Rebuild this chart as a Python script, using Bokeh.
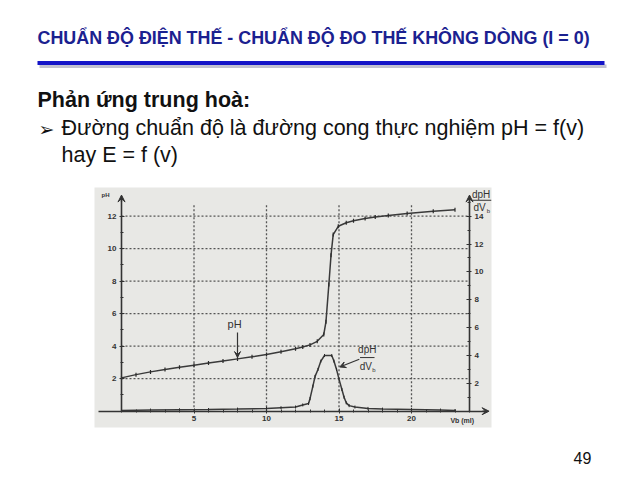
import math
from bokeh.plotting import figure
from bokeh.models import (Range1d, LinearAxis, FixedTicker, Label, Arrow,
                          VeeHead, BoxAnnotation)
from bokeh.embed import file_html
from bokeh.resources import INLINE

# ---------------- data ----------------
title_text = "CHUẨN ĐỘ ĐIỆN THẾ - CHUẨN ĐỘ ĐO THẾ  KHÔNG DÒNG (I = 0)"
heading_text = "Phản ứng trung hoà:"
bullet_line1 = "Đường chuẩn độ là đường cong thực nghiệm pH = f(v)"
bullet_line2 = "hay E = f (v)"
page_number = "49"

vb_ph = [0, 1, 2, 3, 4, 5, 6, 7, 8, 9, 10, 11, 12, 12.5, 13, 13.5, 13.95,
         14.1, 14.3, 14.45, 14.6, 14.95, 15.5, 16, 16.8, 17.5, 18.4, 19.7,
         21.5, 23]
ph = [2.05, 2.25, 2.42, 2.57, 2.70, 2.83, 2.96, 3.09, 3.22, 3.35, 3.49,
      3.66, 3.84, 3.95, 4.08, 4.30, 4.72, 5.5, 7.8, 9.6, 10.87, 11.38,
      11.6, 11.72, 11.86, 11.95, 12.04, 12.17, 12.3, 12.4]

vb_d = [0, 2, 4, 6, 8, 10, 11, 12, 12.5, 12.9, 13.0, 13.2, 13.35, 13.55,
        13.75, 14.0, 14.5, 14.65, 14.83, 15.0, 15.2, 15.35, 15.5, 15.7, 16.1,
        17, 18, 20, 22, 23]
dph_dvb = [0.05, 0.08, 0.1, 0.12, 0.15, 0.2, 0.25, 0.3, 0.45, 0.55, 0.9,
           1.8, 2.5, 3.0, 3.6, 4.0, 4.0, 3.6, 3.0, 2.3, 1.56, 1.0, 0.6, 0.4,
           0.3, 0.2, 0.15, 0.12, 0.08, 0.05]

x_ticks = [5, 10, 15, 20]
ph_ticks = [2, 4, 6, 8, 10, 12]
d_ticks = [2, 4, 6, 8, 10, 12, 14]

FONT = "Liberation Sans"
INK = "#333333"

# ---------------- layout helpers (page pixels -> chart units) ----------------
PX0, PXU = 122.0, 14.5      # page x of Vb = 0, pixels per mL
PY0, PYU = 411.7, 16.25     # page y of pH = 0, pixels per pH unit
D_PER_PH = 14.0 / 12.0      # right axis units per pH unit
ORIGIN = 1                  # page offset of the canvas


def dx(px):
    return (px - PX0) / PXU


def dy(py):
    return (PY0 - py) / PYU


W, H = 622, 469
p = figure(width=W, height=H, x_range=Range1d(dx(ORIGIN), dx(ORIGIN + W)),
           y_range=Range1d(dy(ORIGIN + H), dy(ORIGIN)), output_backend="svg",
           toolbar_location=None, x_axis_location=None, y_axis_location=None,
           min_border=0, background_fill_color="white",
           border_fill_color="white", outline_line_color=None)
p.grid.visible = False
p.extra_y_ranges = {"d": Range1d(dy(ORIGIN + H) * D_PER_PH,
                                 dy(ORIGIN) * D_PER_PH)}

# ---------------- slide text ----------------
txt = dict(text_baseline="middle")
p.add_layout(Label(x=dx(38), y=dy(38), text=title_text, text_font=FONT,
                   text_font_size="17.9px", text_font_style="bold",
                   text_color="#1b2190", **txt))
p.add_layout(BoxAnnotation(left=dx(40), right=dx(607), top=dy(65),
                           bottom=dy(68.5), fill_color="#9a9ab0",
                           fill_alpha=0.6, line_color=None))
p.add_layout(BoxAnnotation(left=dx(38), right=dx(605), top=dy(61.5),
                           bottom=dy(65.5), fill_color="#1414c8",
                           fill_alpha=1.0, line_color=None))
p.add_layout(Label(x=dx(38), y=dy(100), text=heading_text, text_font=FONT,
                   text_font_size="21.5px", text_font_style="bold",
                   text_color="#111111", **txt))
p.add_layout(Label(x=dx(39), y=dy(129), text="➢", text_font="DejaVu Sans",
                   text_font_size="19px", text_color="#111111", **txt))
p.add_layout(Label(x=dx(62), y=dy(128.5), text=bullet_line1, text_font=FONT,
                   text_font_size="21.5px", text_color="#111111", **txt))
p.add_layout(Label(x=dx(62), y=dy(155.5), text=bullet_line2, text_font=FONT,
                   text_font_size="21.5px", text_color="#111111", **txt))
p.add_layout(Label(x=dx(583), y=dy(458), text=page_number, text_font=FONT,
                   text_font_size="16px", text_color="#111111",
                   text_align="center", **txt))

# ---------------- chart ----------------
# scanned-figure background
p.add_layout(BoxAnnotation(left=dx(95), right=dx(492), top=dy(188),
                           bottom=dy(428), fill_color="#e8e8e5",
                           fill_alpha=1.0, line_color=None, level="underlay"))

# dotted grid
p.segment(x0=x_ticks, y0=[0] * len(x_ticks), x1=x_ticks,
          y1=[12.75] * len(x_ticks), line_color="#555555", line_width=1.3,
          line_dash="2 2")
p.segment(x0=[0] * len(ph_ticks), y0=ph_ticks, x1=[24] * len(ph_ticks),
          y1=ph_ticks, line_color="#555555", line_width=1.3, line_dash="2 2")

axis_style = dict(axis_line_color=INK, axis_line_width=1.6,
                  major_tick_line_color=INK, minor_tick_line_color=INK,
                  major_tick_in=3, major_tick_out=2, minor_tick_in=2,
                  minor_tick_out=1, major_label_text_font=FONT,
                  major_label_text_font_size="8px",
                  major_label_text_font_style="bold",
                  major_label_text_color=INK, major_label_standoff=3)

xa = LinearAxis(fixed_location=0,
                ticker=FixedTicker(ticks=x_ticks, minor_ticks=list(range(0, 25))),
                bounds=(-1.6, 25.2), **axis_style)
p.add_layout(xa, "below")
ya = LinearAxis(fixed_location=0,
                ticker=FixedTicker(ticks=ph_ticks, minor_ticks=list(range(0, 14))),
                bounds=(0, 13.2), **axis_style)
p.add_layout(ya, "left")
ra = LinearAxis(y_range_name="d", fixed_location=24,
                ticker=FixedTicker(ticks=d_ticks, minor_ticks=list(range(0, 16))),
                bounds=(0, 15.4), **axis_style)
p.add_layout(ra, "right")

# axis arrow heads
for xs, ys, xe, ye in [(0, 12.9, 0, 13.3), (24, 12.9, 24, 13.3),
                       (24.9, 0, 25.35, 0)]:
    p.add_layout(Arrow(x_start=xs, y_start=ys, x_end=xe, y_end=ye,
                       line_color=INK, line_width=1.4,
                       end=VeeHead(size=7, fill_color=INK, line_color=INK)))

# curves
p.line(vb_ph, ph, line_color="#3a3a3a", line_width=1.5)
p.scatter(vb_ph, ph, marker="dash", angle=math.pi / 2, size=4,
          line_color="#2a2a2a", line_width=1.2)
p.line(vb_d, dph_dvb, y_range_name="d", line_color="#3a3a3a", line_width=1.5)
p.scatter(vb_d, dph_dvb, y_range_name="d", marker="dash",
          angle=math.pi / 2, size=3, line_color="#2a2a2a", line_width=1.0)

# chart annotations
lbl = dict(text_font=FONT, text_color=INK, text_align="center",
           text_baseline="middle")
p.add_layout(Label(x=7.8, y=5.35, text="pH", text_font_size="11px", **lbl))
p.add_layout(Arrow(x_start=8.0, y_start=4.85, x_end=8.0, y_end=3.3,
                   line_color=INK, line_width=1.2,
                   end=VeeHead(size=6, fill_color=INK, line_color=INK)))
p.add_layout(Label(x=16.95, y=3.78, text="dpH", text_font_size="10px", **lbl))
p.add_layout(Arrow(x_start=16.45, y_start=3.3, x_end=17.45, y_end=3.3,
                   line_color=INK, line_width=1.0, end=None))
p.add_layout(Label(x=16.85, y=2.78, text="dV", text_font_size="10px", **lbl))
p.add_layout(Label(x=17.4, y=2.55, text="b", text_font_size="6px", **lbl))
p.add_layout(Arrow(x_start=16.4, y_start=3.2, x_end=15.05, y_end=2.72,
                   line_color=INK, line_width=1.2,
                   end=VeeHead(size=6, fill_color=INK, line_color=INK)))

p.add_layout(Label(x=24.8, y=13.35, text="dpH", text_font_size="10px", **lbl))
p.add_layout(Arrow(x_start=24.1, y_start=12.98, x_end=25.5, y_end=12.98,
                   line_color=INK, line_width=1.0, end=None))
p.add_layout(Label(x=24.7, y=12.55, text="dV", text_font_size="10px", **lbl))
p.add_layout(Label(x=25.3, y=12.3, text="b", text_font_size="6px", **lbl))

p.add_layout(Label(x=-1.1, y=13.3, text="pH", text_font_size="6px",
                   text_font_style="bold", **lbl))
p.add_layout(Label(x=23.5, y=-0.57, text="Vb (ml)", text_font_size="7px",
                   text_font_style="bold", **lbl))

open("out.html", "w").write(file_html(p, INLINE))
